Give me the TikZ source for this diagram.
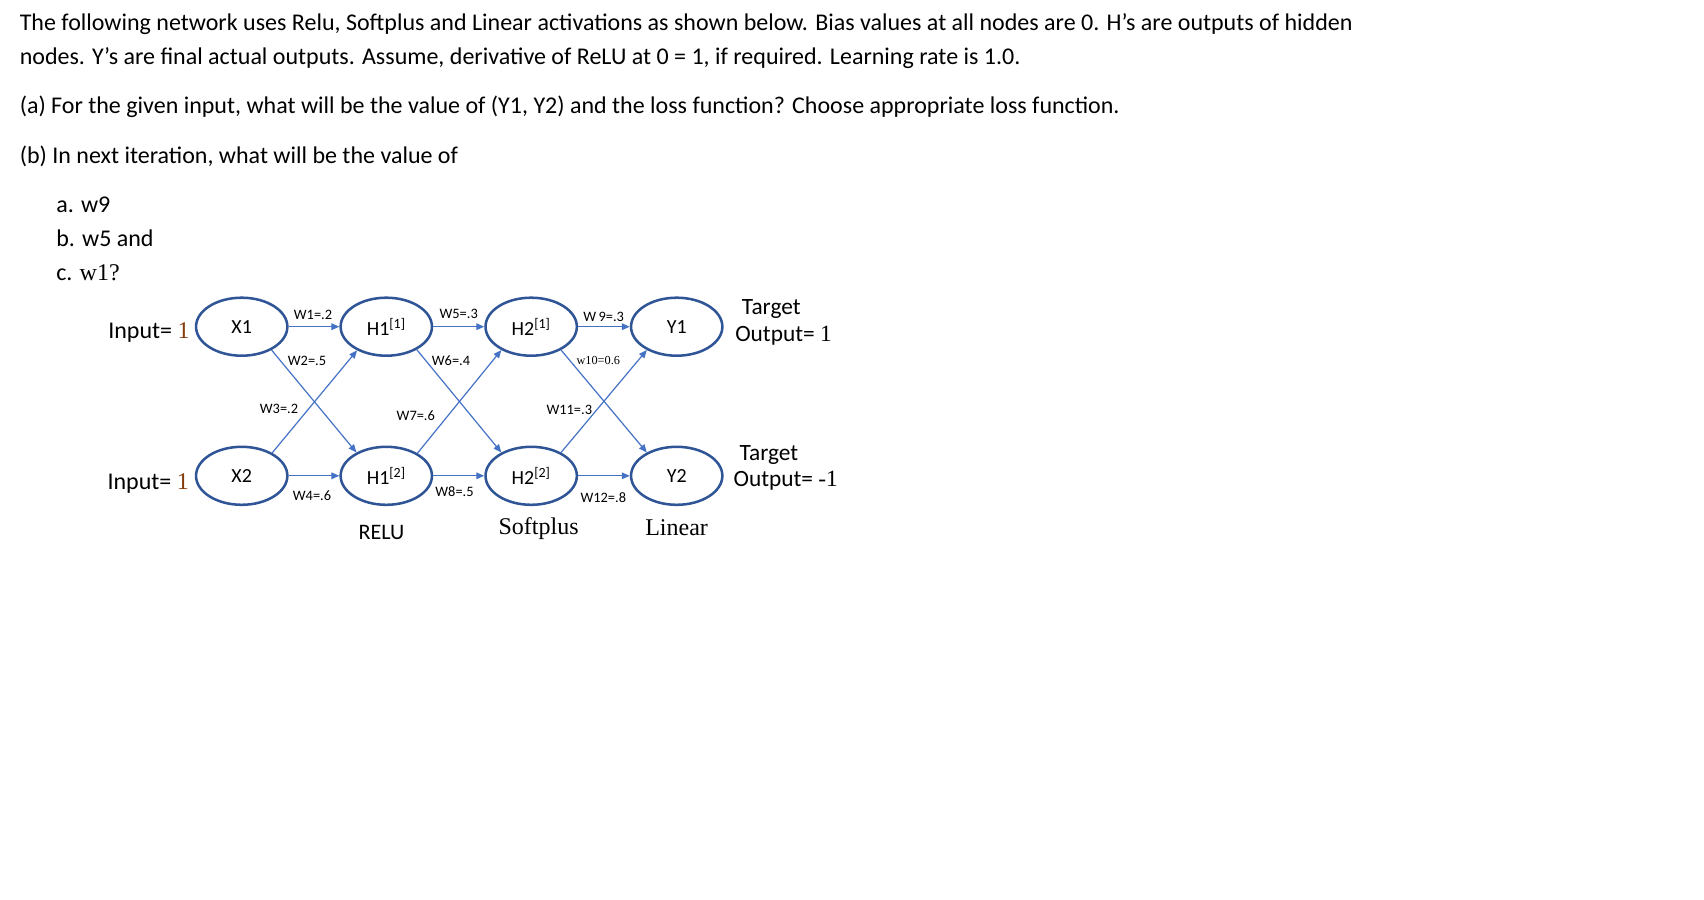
\documentclass[tikz,border=0pt]{standalone}
\usepackage{fontspec}
\setmainfont{Carlito}
\newfontfamily\tnr{Liberation Serif}
\usetikzlibrary{arrows.meta,shapes.geometric}
\definecolor{ellblue}{HTML}{2F5597}
\definecolor{arrblue}{HTML}{4472C4}
\definecolor{brownone}{HTML}{843C0C}
\begin{document}
\begin{tikzpicture}[x=0.75pt,y=-0.75pt,
  neuron/.style={draw=ellblue, line width=1.9pt, ellipse, minimum width=68.5pt, minimum height=43.5pt, inner sep=0pt, font=\fontsize{15}{18}\selectfont},
  conn/.style={draw=arrblue, line width=0.9pt, -{Triangle[length=6pt,width=5pt]}},
  wlab/.style={font=\fontsize{10.8}{13}\selectfont, inner sep=0pt},
  bodytxt/.style={anchor=base west, inner sep=0pt, font=\fontsize{18}{22}\selectfont},
  sidetxt/.style={anchor=base west, inner sep=0pt, font=\fontsize{17.5}{21}\selectfont},
  acttxt/.style={anchor=base west, inner sep=0pt, font=\fontsize{18}{22}\selectfont}]
\useasboundingbox (0,0) rectangle (1704,900);

% question text
\node[bodytxt] (l1) at (19.5,30) {The following network uses Relu, Softplus and Linear activations as shown below. Bias values at all nodes are 0. H’s are outputs of hidden};
\node[bodytxt] (l2) at (19.5,64.5) {nodes. Y’s are final actual outputs. Assume, derivative of ReLU at 0 = 1, if required. Learning rate is 1.0.};
\node[bodytxt] (qa) at (19.5,113.8) {(a) For the given input, what will be the value of (Y1, Y2) and the loss function? Choose appropriate loss function.};
\node[bodytxt] (qb) at (19.5,163.3) {(b) In next iteration, what will be the value of};
\node[bodytxt] (ia) at (56,212.3) {a. w9};
\node[bodytxt] (ib) at (56,246) {b. w5 and};
\node[bodytxt] (ic) at (56,280.3) {c. {\tnr w1?}};

% neurons
\node[neuron] (x1) at (241.7,326.7) {X1};
\node[neuron] (x2) at (241.7,475.8) {X2};
\node[neuron] (h11) at (386.3,326.7) {H1\textsuperscript{[1]}};
\node[neuron] (h12) at (386.3,475.8) {H1\textsuperscript{[2]}};
\node[neuron] (h21) at (531.2,326.7) {H2\textsuperscript{[1]}};
\node[neuron] (h22) at (531.2,475.8) {H2\textsuperscript{[2]}};
\node[neuron] (y1) at (676.7,326.7) {Y1};
\node[neuron] (y2) at (676.7,475.8) {Y2};

% connectors
\draw[conn] (x1.east) -- (h11.west);
\draw[conn] (x2.east) -- (h12.west);
\draw[conn] (x1.-38) -- (h12.142);
\draw[conn] (x2.37) -- (h11.-141);
\draw[conn] (h11.east) -- (h21.west);
\draw[conn] (h12.east) -- (h22.west);
\draw[conn] (h11.-37) -- (h22.142);
\draw[conn] (h12.36) -- (h21.-142);
\draw[conn] (h21.east) -- (y1.west);
\draw[conn] (h22.east) -- (y2.west);
\draw[conn] (h21.-38) -- (y2.142);
\draw[conn] (h22.38) -- (y1.-142);

% weight labels
\node[wlab] (w1) at (313,315) {W1=.2};
\node[wlab] (w2) at (307,361) {W2=.5};
\node[wlab] (w3) at (279,409) {W3=.2};
\node[wlab] (w4) at (312,495.7) {W4=.6};
\node[wlab] (w5) at (458.7,314.3) {W5=.3};
\node[wlab] (w6) at (451,361) {W6=.4};
\node[wlab] (w7) at (415.8,415.7) {W7=.6};
\node[wlab] (w8) at (454.5,491.7) {W8=.5};
\node[wlab] (w9) at (603.7,317.3) {W\,9=.3};
\node[wlab, font=\tnr\fontsize{9.2}{11}\selectfont] (w10) at (598.3,361) {w10=0.6};
\node[wlab] (w11) at (569.3,410) {W11=.3};
\node[wlab] (w12) at (603.3,497.7) {W12=.8};

% side texts
\node[sidetxt, font=\fontsize{18}{22}\selectfont] (in1) at (108,338.3) {Input= {\tnr\color{brownone}1}};
\node[sidetxt, font=\fontsize{18}{22}\selectfont] (in2) at (107.3,489) {Input= {\tnr\color{brownone}1}};
\node[sidetxt] (t1a) at (741.7,314.3) {Target};
\node[sidetxt] (t1b) at (735,341) {Output= {\tnr 1}};
\node[sidetxt] (t2a) at (739.3,460) {Target};
\node[sidetxt] (t2b) at (733.3,486.7) {Output= {\tnr -1}};

% activation labels
\node[acttxt, font=\fontsize{16.6}{20}\selectfont] (relu) at (358.3,539) {RELU};
\node[acttxt, font=\tnr\fontsize{18}{22}\selectfont] (soft) at (498.3,534.5) {Softplus};
\node[acttxt, font=\tnr\fontsize{18}{22}\selectfont] (lin) at (645,535.7) {Linear};
\end{tikzpicture}
\end{document}
